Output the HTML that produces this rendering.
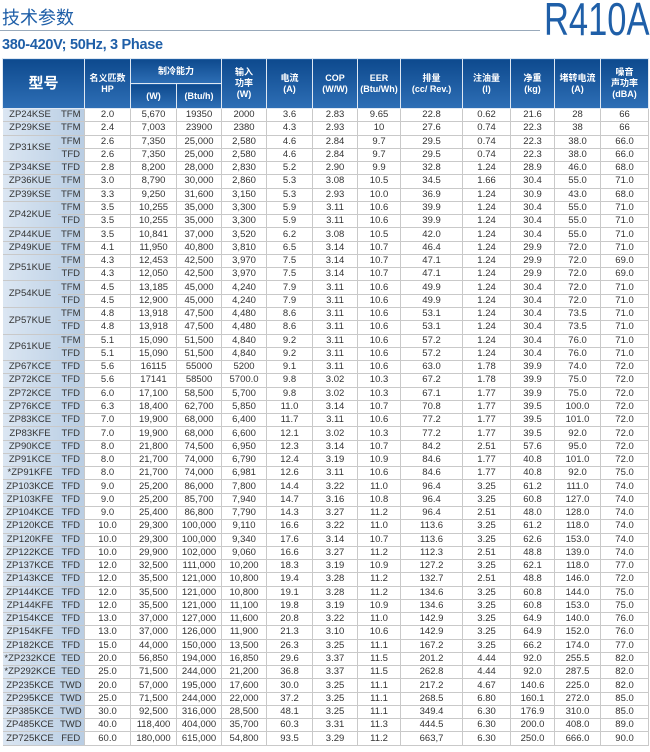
<!DOCTYPE html>
<html><head><meta charset="utf-8"><style>
body{margin:0;width:650px;height:752px;background:#fff;position:relative;overflow:hidden;font-family:"Liberation Sans","Noto Sans CJK SC",sans-serif;}
.t1{position:absolute;left:2px;top:4px;font-size:18px;color:#1f5fa8;font-family:"Noto Sans CJK SC",sans-serif;}
.line{position:absolute;left:0;top:30px;width:540px;height:1px;background:#9ab;}
.r4{position:absolute;left:544px;top:-8px;font-size:46px;color:#1f5fa8;transform:scaleX(0.75);transform-origin:0 0;white-space:nowrap;}
.sub{position:absolute;left:2px;top:37px;font-size:14.5px;font-weight:bold;color:#1f5fa8;letter-spacing:-0.3px;}
table{position:absolute;left:2px;top:58px;border-collapse:collapse;table-layout:fixed;width:646px;}
th{background:linear-gradient(#0e4a8e,#2e6fb6);color:#fff;font-size:9px;font-weight:bold;border:1px solid #dfe8f3;padding:0;line-height:11px;font-family:"Liberation Sans","Noto Sans CJK SC",sans-serif;}
th.big{font-size:15px;}
tr.d{height:13.27px;}
td{padding:0;border:1px solid #c9c9c9;font-size:9.5px;color:#333;text-align:center;line-height:10px;white-space:nowrap;overflow:hidden;}
td.m{background:linear-gradient(90deg,#dbe6f2,#c3d5e8);border-right:none;border-left:none;}
td.ty{background:linear-gradient(90deg,#c3d5e8,#b9cde3);border-left:none;}
</style></head><body>
<div class="t1">技术参数</div><div class="line"></div><div class="r4">R410A</div>
<div class="sub">380-420V; 50Hz, 3 Phase</div>
<table>
<colgroup><col style="width:55px"><col style="width:27px"><col style="width:46px"><col style="width:46px"><col style="width:45px"><col style="width:45px"><col style="width:46px"><col style="width:45px"><col style="width:43px"><col style="width:62px"><col style="width:48px"><col style="width:44px"><col style="width:46px"><col style="width:48px"></colgroup>
<tr style="height:25px"><th class="big" colspan="2" rowspan="2">型号</th><th rowspan="2">名义匹数<br>HP</th><th colspan="2">制冷能力</th><th rowspan="2">输入<br>功率<br>(W)</th><th rowspan="2">电流<br>(A)</th><th rowspan="2">COP<br>(W/W)</th><th rowspan="2">EER<br>(Btu/Wh)</th><th rowspan="2">排量<br>(cc/ Rev.)</th><th rowspan="2">注油量<br>(l)</th><th rowspan="2">净重<br>(kg)</th><th rowspan="2">堵转电流<br>(A)</th><th rowspan="2">噪音<br>声功率<br>(dBA)</th></tr>
<tr style="height:25px"><th>(W)</th><th>(Btu/h)</th></tr>
<tr class="d"><td class="m">ZP24KSE</td><td class="ty">TFM</td><td>2.0</td><td>5,670</td><td>19350</td><td>2000</td><td>3.6</td><td>2.83</td><td>9.65</td><td>22.8</td><td>0.62</td><td>21.6</td><td>28</td><td>66</td></tr>
<tr class="d"><td class="m">ZP29KSE</td><td class="ty">TFM</td><td>2.4</td><td>7,003</td><td>23900</td><td>2380</td><td>4.3</td><td>2.93</td><td>10</td><td>27.6</td><td>0.74</td><td>22.3</td><td>38</td><td>66</td></tr>
<tr class="d"><td class="m" rowspan="2">ZP31KSE</td><td class="ty">TFM</td><td>2.6</td><td>7,350</td><td>25,000</td><td>2,580</td><td>4.6</td><td>2.84</td><td>9.7</td><td>29.5</td><td>0.74</td><td>22.3</td><td>38.0</td><td>66.0</td></tr>
<tr class="d"><td class="ty">TFD</td><td>2.6</td><td>7,350</td><td>25,000</td><td>2,580</td><td>4.6</td><td>2.84</td><td>9.7</td><td>29.5</td><td>0.74</td><td>22.3</td><td>38.0</td><td>66.0</td></tr>
<tr class="d"><td class="m">ZP34KSE</td><td class="ty">TFD</td><td>2.8</td><td>8,200</td><td>28,000</td><td>2,830</td><td>5.2</td><td>2.90</td><td>9.9</td><td>32.8</td><td>1.24</td><td>28.9</td><td>46.0</td><td>68.0</td></tr>
<tr class="d"><td class="m">ZP36KUE</td><td class="ty">TFM</td><td>3.0</td><td>8,790</td><td>30,000</td><td>2,860</td><td>5.3</td><td>3.08</td><td>10.5</td><td>34.5</td><td>1.66</td><td>30.4</td><td>55.0</td><td>71.0</td></tr>
<tr class="d"><td class="m">ZP39KSE</td><td class="ty">TFM</td><td>3.3</td><td>9,250</td><td>31,600</td><td>3,150</td><td>5.3</td><td>2.93</td><td>10.0</td><td>36.9</td><td>1.24</td><td>30.9</td><td>43.0</td><td>68.0</td></tr>
<tr class="d"><td class="m" rowspan="2">ZP42KUE</td><td class="ty">TFM</td><td>3.5</td><td>10,255</td><td>35,000</td><td>3,300</td><td>5.9</td><td>3.11</td><td>10.6</td><td>39.9</td><td>1.24</td><td>30.4</td><td>55.0</td><td>71.0</td></tr>
<tr class="d"><td class="ty">TFD</td><td>3.5</td><td>10,255</td><td>35,000</td><td>3,300</td><td>5.9</td><td>3.11</td><td>10.6</td><td>39.9</td><td>1.24</td><td>30.4</td><td>55.0</td><td>71.0</td></tr>
<tr class="d"><td class="m">ZP44KUE</td><td class="ty">TFM</td><td>3.5</td><td>10,841</td><td>37,000</td><td>3,520</td><td>6.2</td><td>3.08</td><td>10.5</td><td>42.0</td><td>1.24</td><td>30.4</td><td>55.0</td><td>71.0</td></tr>
<tr class="d"><td class="m">ZP49KUE</td><td class="ty">TFM</td><td>4.1</td><td>11,950</td><td>40,800</td><td>3,810</td><td>6.5</td><td>3.14</td><td>10.7</td><td>46.4</td><td>1.24</td><td>29.9</td><td>72.0</td><td>71.0</td></tr>
<tr class="d"><td class="m" rowspan="2">ZP51KUE</td><td class="ty">TFM</td><td>4.3</td><td>12,453</td><td>42,500</td><td>3,970</td><td>7.5</td><td>3.14</td><td>10.7</td><td>47.1</td><td>1.24</td><td>29.9</td><td>72.0</td><td>69.0</td></tr>
<tr class="d"><td class="ty">TFD</td><td>4.3</td><td>12,050</td><td>42,500</td><td>3,970</td><td>7.5</td><td>3.14</td><td>10.7</td><td>47.1</td><td>1.24</td><td>29.9</td><td>72.0</td><td>69.0</td></tr>
<tr class="d"><td class="m" rowspan="2">ZP54KUE</td><td class="ty">TFM</td><td>4.5</td><td>13,185</td><td>45,000</td><td>4,240</td><td>7.9</td><td>3.11</td><td>10.6</td><td>49.9</td><td>1.24</td><td>30.4</td><td>72.0</td><td>71.0</td></tr>
<tr class="d"><td class="ty">TFD</td><td>4.5</td><td>12,900</td><td>45,000</td><td>4,240</td><td>7.9</td><td>3.11</td><td>10.6</td><td>49.9</td><td>1.24</td><td>30.4</td><td>72.0</td><td>71.0</td></tr>
<tr class="d"><td class="m" rowspan="2">ZP57KUE</td><td class="ty">TFM</td><td>4.8</td><td>13,918</td><td>47,500</td><td>4,480</td><td>8.6</td><td>3.11</td><td>10.6</td><td>53.1</td><td>1.24</td><td>30.4</td><td>73.5</td><td>71.0</td></tr>
<tr class="d"><td class="ty">TFD</td><td>4.8</td><td>13,918</td><td>47,500</td><td>4,480</td><td>8.6</td><td>3.11</td><td>10.6</td><td>53.1</td><td>1.24</td><td>30.4</td><td>73.5</td><td>71.0</td></tr>
<tr class="d"><td class="m" rowspan="2">ZP61KUE</td><td class="ty">TFM</td><td>5.1</td><td>15,090</td><td>51,500</td><td>4,840</td><td>9.2</td><td>3.11</td><td>10.6</td><td>57.2</td><td>1.24</td><td>30.4</td><td>76.0</td><td>71.0</td></tr>
<tr class="d"><td class="ty">TFD</td><td>5.1</td><td>15,090</td><td>51,500</td><td>4,840</td><td>9.2</td><td>3.11</td><td>10.6</td><td>57.2</td><td>1.24</td><td>30.4</td><td>76.0</td><td>71.0</td></tr>
<tr class="d"><td class="m">ZP67KCE</td><td class="ty">TFD</td><td>5.6</td><td>16115</td><td>55000</td><td>5200</td><td>9.1</td><td>3.11</td><td>10.6</td><td>63.0</td><td>1.78</td><td>39.9</td><td>74.0</td><td>72.0</td></tr>
<tr class="d"><td class="m">ZP72KCE</td><td class="ty">TFD</td><td>5.6</td><td>17141</td><td>58500</td><td>5700.0</td><td>9.8</td><td>3.02</td><td>10.3</td><td>67.2</td><td>1.78</td><td>39.9</td><td>75.0</td><td>72.0</td></tr>
<tr class="d"><td class="m">ZP72KCE</td><td class="ty">TFD</td><td>6.0</td><td>17,100</td><td>58,500</td><td>5,700</td><td>9.8</td><td>3.02</td><td>10.3</td><td>67.1</td><td>1.77</td><td>39.9</td><td>75.0</td><td>72.0</td></tr>
<tr class="d"><td class="m">ZP76KCE</td><td class="ty">TFD</td><td>6.3</td><td>18,400</td><td>62,700</td><td>5,850</td><td>11.0</td><td>3.14</td><td>10.7</td><td>70.8</td><td>1.77</td><td>39.5</td><td>100.0</td><td>72.0</td></tr>
<tr class="d"><td class="m">ZP83KCE</td><td class="ty">TFD</td><td>7.0</td><td>19,900</td><td>68,000</td><td>6,400</td><td>11.7</td><td>3.11</td><td>10.6</td><td>77.2</td><td>1.77</td><td>39.5</td><td>101.0</td><td>72.0</td></tr>
<tr class="d"><td class="m">ZP83KFE</td><td class="ty">TFD</td><td>7.0</td><td>19,900</td><td>68,000</td><td>6,600</td><td>12.1</td><td>3.02</td><td>10.3</td><td>77.2</td><td>1.77</td><td>39.5</td><td>92.0</td><td>72.0</td></tr>
<tr class="d"><td class="m">ZP90KCE</td><td class="ty">TFD</td><td>8.0</td><td>21,800</td><td>74,500</td><td>6,950</td><td>12.3</td><td>3.14</td><td>10.7</td><td>84.2</td><td>2.51</td><td>57.6</td><td>95.0</td><td>72.0</td></tr>
<tr class="d"><td class="m">ZP91KCE</td><td class="ty">TFD</td><td>8.0</td><td>21,700</td><td>74,000</td><td>6,790</td><td>12.4</td><td>3.19</td><td>10.9</td><td>84.6</td><td>1.77</td><td>40.8</td><td>101.0</td><td>72.0</td></tr>
<tr class="d"><td class="m">*ZP91KFE</td><td class="ty">TFD</td><td>8.0</td><td>21,700</td><td>74,000</td><td>6,981</td><td>12.6</td><td>3.11</td><td>10.6</td><td>84.6</td><td>1.77</td><td>40.8</td><td>92.0</td><td>75.0</td></tr>
<tr class="d"><td class="m">ZP103KCE</td><td class="ty">TFD</td><td>9.0</td><td>25,200</td><td>86,000</td><td>7,800</td><td>14.4</td><td>3.22</td><td>11.0</td><td>96.4</td><td>3.25</td><td>61.2</td><td>111.0</td><td>74.0</td></tr>
<tr class="d"><td class="m">ZP103KFE</td><td class="ty">TFD</td><td>9.0</td><td>25,200</td><td>85,700</td><td>7,940</td><td>14.7</td><td>3.16</td><td>10.8</td><td>96.4</td><td>3.25</td><td>60.8</td><td>127.0</td><td>74.0</td></tr>
<tr class="d"><td class="m">ZP104KCE</td><td class="ty">TFD</td><td>9.0</td><td>25,400</td><td>86,800</td><td>7,790</td><td>14.3</td><td>3.27</td><td>11.2</td><td>96.4</td><td>2.51</td><td>48.0</td><td>128.0</td><td>74.0</td></tr>
<tr class="d"><td class="m">ZP120KCE</td><td class="ty">TFD</td><td>10.0</td><td>29,300</td><td>100,000</td><td>9,110</td><td>16.6</td><td>3.22</td><td>11.0</td><td>113.6</td><td>3.25</td><td>61.2</td><td>118.0</td><td>74.0</td></tr>
<tr class="d"><td class="m">ZP120KFE</td><td class="ty">TFD</td><td>10.0</td><td>29,300</td><td>100,000</td><td>9,340</td><td>17.6</td><td>3.14</td><td>10.7</td><td>113.6</td><td>3.25</td><td>62.6</td><td>153.0</td><td>74.0</td></tr>
<tr class="d"><td class="m">ZP122KCE</td><td class="ty">TFD</td><td>10.0</td><td>29,900</td><td>102,000</td><td>9,060</td><td>16.6</td><td>3.27</td><td>11.2</td><td>112.3</td><td>2.51</td><td>48.8</td><td>139.0</td><td>74.0</td></tr>
<tr class="d"><td class="m">ZP137KCE</td><td class="ty">TFD</td><td>12.0</td><td>32,500</td><td>111,000</td><td>10,200</td><td>18.3</td><td>3.19</td><td>10.9</td><td>127.2</td><td>3.25</td><td>62.1</td><td>118.0</td><td>77.0</td></tr>
<tr class="d"><td class="m">ZP143KCE</td><td class="ty">TFD</td><td>12.0</td><td>35,500</td><td>121,000</td><td>10,800</td><td>19.4</td><td>3.28</td><td>11.2</td><td>132.7</td><td>2.51</td><td>48.8</td><td>146.0</td><td>72.0</td></tr>
<tr class="d"><td class="m">ZP144KCE</td><td class="ty">TFD</td><td>12.0</td><td>35,500</td><td>121,000</td><td>10,800</td><td>19.1</td><td>3.28</td><td>11.2</td><td>134.6</td><td>3.25</td><td>60.8</td><td>144.0</td><td>75.0</td></tr>
<tr class="d"><td class="m">ZP144KFE</td><td class="ty">TFD</td><td>12.0</td><td>35,500</td><td>121,000</td><td>11,100</td><td>19.8</td><td>3.19</td><td>10.9</td><td>134.6</td><td>3.25</td><td>60.8</td><td>153.0</td><td>75.0</td></tr>
<tr class="d"><td class="m">ZP154KCE</td><td class="ty">TFD</td><td>13.0</td><td>37,000</td><td>127,000</td><td>11,600</td><td>20.8</td><td>3.22</td><td>11.0</td><td>142.9</td><td>3.25</td><td>64.9</td><td>140.0</td><td>76.0</td></tr>
<tr class="d"><td class="m">ZP154KFE</td><td class="ty">TFD</td><td>13.0</td><td>37,000</td><td>126,000</td><td>11,900</td><td>21.3</td><td>3.10</td><td>10.6</td><td>142.9</td><td>3.25</td><td>64.9</td><td>152.0</td><td>76.0</td></tr>
<tr class="d"><td class="m">ZP182KCE</td><td class="ty">TFD</td><td>15.0</td><td>44,000</td><td>150,000</td><td>13,500</td><td>26.3</td><td>3.25</td><td>11.1</td><td>167.2</td><td>3.25</td><td>66.2</td><td>174.0</td><td>77.0</td></tr>
<tr class="d"><td class="m">*ZP232KCE</td><td class="ty">TED</td><td>20.0</td><td>56,850</td><td>194,000</td><td>16,850</td><td>29.6</td><td>3.37</td><td>11.5</td><td>201.2</td><td>4.44</td><td>92.0</td><td>255.5</td><td>82.0</td></tr>
<tr class="d"><td class="m">*ZP292KCE</td><td class="ty">TED</td><td>25.0</td><td>71,500</td><td>244,000</td><td>21,200</td><td>36.8</td><td>3.37</td><td>11.5</td><td>262.8</td><td>4.44</td><td>92.0</td><td>287.5</td><td>82.0</td></tr>
<tr class="d"><td class="m">ZP235KCE</td><td class="ty">TWD</td><td>20.0</td><td>57,000</td><td>195,000</td><td>17,600</td><td>30.0</td><td>3.25</td><td>11.1</td><td>217.2</td><td>4.67</td><td>140.6</td><td>225.0</td><td>82.0</td></tr>
<tr class="d"><td class="m">ZP295KCE</td><td class="ty">TWD</td><td>25.0</td><td>71,500</td><td>244,000</td><td>22,000</td><td>37.2</td><td>3.25</td><td>11.1</td><td>268.5</td><td>6.80</td><td>160.1</td><td>272.0</td><td>85.0</td></tr>
<tr class="d"><td class="m">ZP385KCE</td><td class="ty">TWD</td><td>30.0</td><td>92,500</td><td>316,000</td><td>28,500</td><td>48.1</td><td>3.25</td><td>11.1</td><td>349.4</td><td>6.30</td><td>176.9</td><td>310.0</td><td>85.0</td></tr>
<tr class="d"><td class="m">ZP485KCE</td><td class="ty">TWD</td><td>40.0</td><td>118,400</td><td>404,000</td><td>35,700</td><td>60.3</td><td>3.31</td><td>11.3</td><td>444.5</td><td>6.30</td><td>200.0</td><td>408.0</td><td>89.0</td></tr>
<tr class="d"><td class="m">ZP725KCE</td><td class="ty">FED</td><td>60.0</td><td>180,000</td><td>615,000</td><td>54,800</td><td>93.5</td><td>3.29</td><td>11.2</td><td>663,7</td><td>6.30</td><td>250.0</td><td>666.0</td><td>90.0</td></tr>
</table>
</body></html>
